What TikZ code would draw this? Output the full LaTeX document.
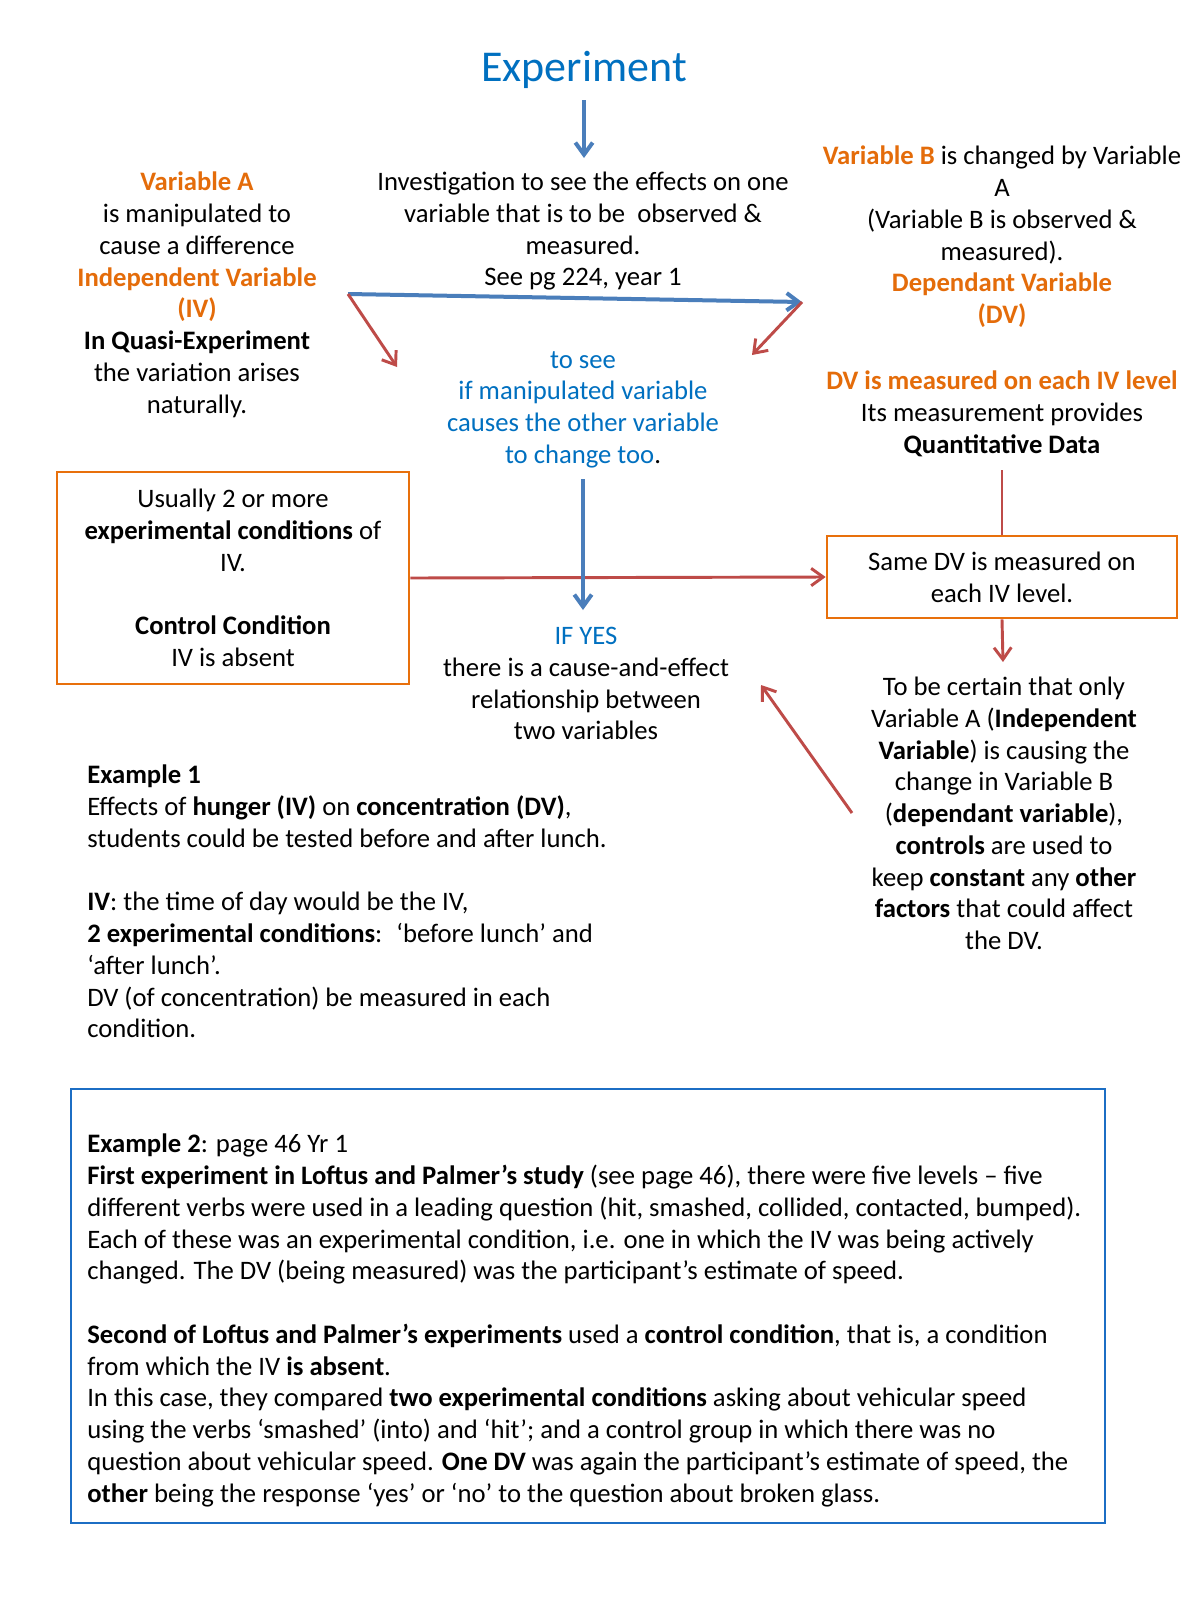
\documentclass[tikz,border=0pt]{standalone}
\usepackage{fontspec}
\setmainfont{Carlito}
\usetikzlibrary{arrows.meta}
\definecolor{ortext}{HTML}{E46C0A}
\definecolor{bltext}{HTML}{0070C0}
\definecolor{blarrow}{HTML}{4A7EBB}
\definecolor{rdarrow}{HTML}{BE4B48}
\definecolor{orbox}{HTML}{E8700C}
\definecolor{blbox}{HTML}{1C6EC4}
\newcommand\orb[1]{\textcolor{ortext}{\textbf{#1}}}
\begin{document}
\begin{tikzpicture}[x=0.75pt,y=-0.75pt,
  txt/.style={inner sep=0pt, align=center, font=\fontsize{20}{23.8}\selectfont},
  txtl/.style={inner sep=0pt, align=left, font=\fontsize{20}{23.8}\selectfont, anchor=north west},
  obox/.style={draw=orbox, line width=2pt, inner sep=0pt, align=center, font=\fontsize{20}{23.8}\selectfont},
  barrow/.style={draw=blarrow, line width=3pt, -{Straight Barb[length=9pt,width=13pt]}},
  rarrow/.style={draw=rdarrow, line width=2.2pt, -{Straight Barb[length=9pt,width=13pt]}},
  rline/.style={draw=rdarrow, line width=2.2pt}]
\useasboundingbox (0,0) rectangle (1200,1600);
\fill[white] (0,0) rectangle (1200,1600);

% title
\node[inner sep=0pt, font=\fontsize{33}{40}\selectfont, text=bltext] (title) at (584,70) {Experiment};

% top row texts
\node[txt, anchor=north] (varA) at (197,172) {\orb{Variable A}\\ is manipulated to\\ cause a difference\\ \orb{Independent Variable}\\ \orb{(IV)}\\ \textbf{In Quasi-Experiment}\\ the variation arises\\ naturally.};
\node[txt, anchor=north] (inv) at (583,172) {Investigation to see the effects on one\\ variable that is to be~ observed \&\\ measured.\\ See pg 224, year 1};
\node[txt, anchor=north] (varB) at (1002,146) {\orb{Variable B} is changed by Variable\\ A\\ (Variable B is observed \&\\ measured).\\ \orb{Dependant Variable}\\ \orb{(DV)}};

\node[txt, anchor=north, text=bltext] (tosee) at (583,351) {to see\\ if manipulated variable\\ causes the other variable\\ to change too\textcolor{black}{.}};
\node[txt, anchor=north] (dvmeas) at (1002,371) {\orb{DV is measured on each IV level}\\ Its measurement provides\\ \textbf{Quantitative Data}};

% boxes
\node[obox, minimum width=264pt, minimum height=159pt] (boxL) at (233,578) {Usually 2 or more\\ \textbf{experimental conditions} of\\ IV.\\[23.8pt] \textbf{Control Condition}\\ IV is absent};
\node[obox, minimum width=262.5pt, minimum height=61.5pt] (boxR) at (1002,577) {Same DV is measured on\\ each IV level.};

\node[txt, anchor=north] (ifyes) at (586,627) {\textcolor{bltext}{IF YES}\\ there is a cause-and-effect\\ relationship between\\ two variables};
\node[txt, anchor=north] (certain) at (1004,677) {To be certain that only\\ Variable A (\textbf{Independent}\\ \textbf{Variable}) is causing the\\ change in Variable B\\ (\textbf{dependant variable}),\\ \textbf{controls} are used to\\ keep \textbf{constant} any \textbf{other}\\ \textbf{factors} that could affect\\ the DV.};

% example 1
\node[txtl] (ex1) at (87,765) {\textbf{Example 1}\\ Effects of \textbf{hunger (IV)} on \textbf{concentration (DV)},\\ students could be tested before and after lunch.\\[23.8pt] \textbf{IV}: the time of day would be the IV,\\ \textbf{2 experimental conditions}:~ ‘before lunch’ and\\ ‘after lunch’.\\ DV (of concentration) be measured in each\\ condition.};

% example 2
\node[draw=blbox, line width=2pt, inner sep=0pt, minimum width=775.5pt, minimum height=325.5pt] (ex2box) at (588,1306) {};
\node[txtl] (ex2) at (87,1134) {\textbf{Example 2}: page 46 Yr 1\\ \textbf{First experiment in Loftus and Palmer’s study} (see page 46), there were five levels – five\\ different verbs were used in a leading question (hit, smashed, collided, contacted, bumped).\\ Each of these was an experimental condition, i.e. one in which the IV was being actively\\ changed. The DV (being measured) was the participant’s estimate of speed.\\[23.8pt] \textbf{Second of Loftus and Palmer’s experiments} used a \textbf{control condition}, that is, a condition\\ from which the IV \textbf{is absent}.\\ In this case, they compared \textbf{two experimental conditions} asking about vehicular speed\\ using the verbs ‘smashed’ (into) and ‘hit’; and a control group in which there was no\\ question about vehicular speed. \textbf{One DV} was again the participant’s estimate of speed, the\\ \textbf{other} being the response ‘yes’ or ‘no’ to the question about broken glass.};

% connector coordinates
\coordinate (tA) at (584,100);
\coordinate (tB) at (584,158);
\coordinate (hL) at (348,294);
\coordinate (hR) at (802,302);
\coordinate (dL) at (397,367);
\coordinate (dR) at (752,355);
\coordinate (vT) at (583,479);
\coordinate (vB) at (583,610);
\coordinate (rT) at (1002,470);
\coordinate (rB) at (1003,662);
\coordinate (gS) at (852,813);
\coordinate (gE) at (761,685);

% connectors
\draw[barrow] (tA) -- (tB);
\draw[barrow] (hL) -- (hR);
\draw[rarrow] (hL) -- (dL);
\draw[rarrow] (hR) -- (dR);
\draw[rarrow] (boxL.east) -- (boxR.west);
\draw[barrow] (vT) -- (vB);
\draw[rline] (rT) -- (boxR.north);
\draw[rarrow] (boxR.south) -- (rB);
\draw[rarrow] (gS) -- (gE);
\end{tikzpicture}
\end{document}
